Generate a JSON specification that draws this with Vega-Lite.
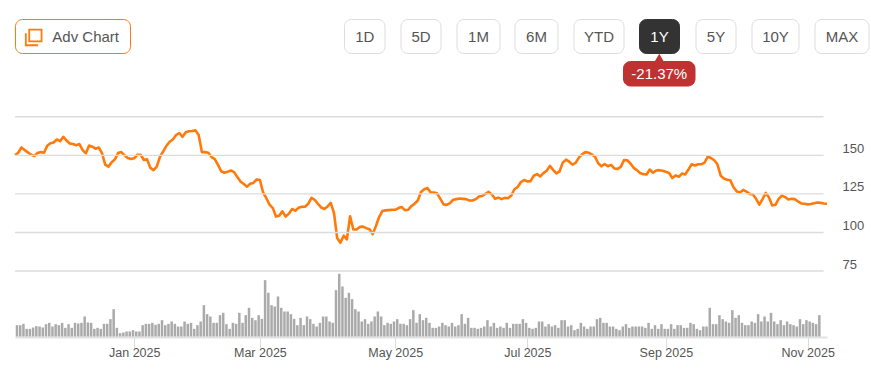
{"$schema":"https://vega.github.io/schema/vega-lite/v6.json","width":871,"height":379,"autosize":"none","padding":0,"background":"#ffffff","config":{"view":{"stroke":null},"font":"Liberation Sans"},"resolve":{"scale":{"x":"independent","y":"independent"},"axis":{"x":"independent","y":"independent"}},"layer":[{"data":{"values":[{"d":"2024-11-07","c":150.0,"v":3.4},{"d":"2024-11-08","c":151.7,"v":3.4},{"d":"2024-11-11","c":155.1,"v":3.8},{"d":"2024-11-12","c":153.4,"v":2.3},{"d":"2024-11-13","c":151.9,"v":2.3},{"d":"2024-11-14","c":150.4,"v":2.7},{"d":"2024-11-15","c":149.6,"v":3.1},{"d":"2024-11-18","c":151.5,"v":3.0},{"d":"2024-11-19","c":152.1,"v":2.7},{"d":"2024-11-20","c":151.7,"v":3.7},{"d":"2024-11-21","c":156.2,"v":4.1},{"d":"2024-11-22","c":157.9,"v":3.0},{"d":"2024-11-25","c":158.3,"v":3.7},{"d":"2024-11-26","c":160.3,"v":3.4},{"d":"2024-11-27","c":159.2,"v":4.1},{"d":"2024-11-29","c":162.0,"v":2.6},{"d":"2024-12-02","c":159.6,"v":3.7},{"d":"2024-12-03","c":157.7,"v":2.6},{"d":"2024-12-04","c":157.3,"v":4.1},{"d":"2024-12-05","c":156.6,"v":3.9},{"d":"2024-12-06","c":157.3,"v":4.1},{"d":"2024-12-09","c":153.4,"v":6.0},{"d":"2024-12-10","c":151.3,"v":4.2},{"d":"2024-12-11","c":156.4,"v":4.1},{"d":"2024-12-12","c":155.6,"v":2.3},{"d":"2024-12-13","c":154.3,"v":2.6},{"d":"2024-12-16","c":155.1,"v":2.3},{"d":"2024-12-17","c":151.5,"v":3.8},{"d":"2024-12-18","c":144.0,"v":3.8},{"d":"2024-12-19","c":142.7,"v":5.2},{"d":"2024-12-20","c":145.5,"v":8.2},{"d":"2024-12-23","c":147.4,"v":2.6},{"d":"2024-12-24","c":151.5,"v":1.0},{"d":"2024-12-26","c":152.1,"v":1.2},{"d":"2024-12-27","c":150.0,"v":1.5},{"d":"2024-12-30","c":148.3,"v":1.5},{"d":"2024-12-31","c":147.6,"v":1.9},{"d":"2025-01-02","c":148.1,"v":1.5},{"d":"2025-01-03","c":150.4,"v":1.5},{"d":"2025-01-06","c":150.4,"v":3.4},{"d":"2025-01-07","c":147.0,"v":3.8},{"d":"2025-01-08","c":147.4,"v":3.8},{"d":"2025-01-10","c":141.9,"v":4.1},{"d":"2025-01-13","c":140.4,"v":3.5},{"d":"2025-01-14","c":142.7,"v":3.8},{"d":"2025-01-15","c":149.1,"v":4.9},{"d":"2025-01-16","c":152.6,"v":3.4},{"d":"2025-01-17","c":156.2,"v":3.8},{"d":"2025-01-21","c":158.8,"v":4.5},{"d":"2025-01-22","c":160.3,"v":3.8},{"d":"2025-01-23","c":163.2,"v":3.0},{"d":"2025-01-24","c":164.5,"v":3.0},{"d":"2025-01-27","c":162.0,"v":4.5},{"d":"2025-01-28","c":165.0,"v":3.8},{"d":"2025-01-29","c":165.6,"v":4.1},{"d":"2025-01-30","c":165.8,"v":2.3},{"d":"2025-01-31","c":166.2,"v":3.4},{"d":"2025-02-03","c":163.2,"v":4.5},{"d":"2025-02-04","c":152.1,"v":9.4},{"d":"2025-02-05","c":152.1,"v":6.7},{"d":"2025-02-06","c":151.7,"v":6.0},{"d":"2025-02-07","c":148.9,"v":4.1},{"d":"2025-02-10","c":147.6,"v":4.1},{"d":"2025-02-11","c":143.8,"v":6.4},{"d":"2025-02-12","c":139.7,"v":7.1},{"d":"2025-02-13","c":138.7,"v":3.7},{"d":"2025-02-14","c":139.3,"v":2.3},{"d":"2025-02-18","c":140.2,"v":4.1},{"d":"2025-02-19","c":139.1,"v":3.8},{"d":"2025-02-20","c":135.9,"v":7.1},{"d":"2025-02-21","c":133.1,"v":4.1},{"d":"2025-02-24","c":131.4,"v":6.4},{"d":"2025-02-25","c":129.7,"v":8.6},{"d":"2025-02-26","c":131.6,"v":5.6},{"d":"2025-02-27","c":132.1,"v":4.9},{"d":"2025-02-28","c":134.4,"v":6.4},{"d":"2025-03-03","c":134.0,"v":5.3},{"d":"2025-03-04","c":125.9,"v":16.9},{"d":"2025-03-05","c":122.2,"v":13.1},{"d":"2025-03-06","c":118.0,"v":9.4},{"d":"2025-03-07","c":115.8,"v":9.0},{"d":"2025-03-10","c":110.3,"v":12.0},{"d":"2025-03-11","c":110.9,"v":8.6},{"d":"2025-03-12","c":113.7,"v":7.5},{"d":"2025-03-13","c":110.3,"v":7.5},{"d":"2025-03-14","c":112.2,"v":6.7},{"d":"2025-03-17","c":115.2,"v":5.3},{"d":"2025-03-18","c":114.1,"v":3.4},{"d":"2025-03-19","c":116.0,"v":5.6},{"d":"2025-03-20","c":116.7,"v":3.4},{"d":"2025-03-21","c":116.7,"v":6.0},{"d":"2025-03-24","c":118.6,"v":5.2},{"d":"2025-03-25","c":122.4,"v":3.8},{"d":"2025-03-26","c":121.2,"v":3.0},{"d":"2025-03-27","c":118.6,"v":4.1},{"d":"2025-03-28","c":116.2,"v":6.0},{"d":"2025-03-31","c":115.2,"v":6.0},{"d":"2025-04-01","c":116.9,"v":4.5},{"d":"2025-04-02","c":119.2,"v":4.1},{"d":"2025-04-03","c":112.6,"v":13.9},{"d":"2025-04-04","c":96.2,"v":18.8},{"d":"2025-04-07","c":93.4,"v":15.0},{"d":"2025-04-08","c":97.9,"v":11.6},{"d":"2025-04-09","c":95.5,"v":13.1},{"d":"2025-04-10","c":110.5,"v":11.2},{"d":"2025-04-11","c":101.9,"v":8.2},{"d":"2025-04-14","c":101.9,"v":7.5},{"d":"2025-04-15","c":103.6,"v":4.5},{"d":"2025-04-16","c":103.8,"v":5.2},{"d":"2025-04-17","c":102.8,"v":3.8},{"d":"2025-04-21","c":102.1,"v":4.5},{"d":"2025-04-22","c":98.9,"v":6.0},{"d":"2025-04-23","c":104.1,"v":7.5},{"d":"2025-04-24","c":110.0,"v":6.0},{"d":"2025-04-25","c":113.9,"v":3.4},{"d":"2025-04-28","c":114.3,"v":4.1},{"d":"2025-04-29","c":114.5,"v":3.8},{"d":"2025-04-30","c":114.7,"v":4.5},{"d":"2025-05-01","c":114.7,"v":5.2},{"d":"2025-05-02","c":115.8,"v":3.8},{"d":"2025-05-05","c":116.5,"v":3.8},{"d":"2025-05-06","c":114.5,"v":3.4},{"d":"2025-05-07","c":114.7,"v":5.2},{"d":"2025-05-08","c":117.1,"v":7.9},{"d":"2025-05-09","c":118.6,"v":4.1},{"d":"2025-05-12","c":120.7,"v":6.7},{"d":"2025-05-13","c":126.3,"v":4.9},{"d":"2025-05-14","c":128.0,"v":5.6},{"d":"2025-05-15","c":128.8,"v":4.1},{"d":"2025-05-16","c":125.9,"v":2.6},{"d":"2025-05-19","c":125.9,"v":2.6},{"d":"2025-05-20","c":125.4,"v":3.0},{"d":"2025-05-21","c":121.8,"v":4.1},{"d":"2025-05-22","c":118.2,"v":3.4},{"d":"2025-05-23","c":117.9,"v":3.0},{"d":"2025-05-27","c":119.0,"v":4.1},{"d":"2025-05-28","c":121.2,"v":3.0},{"d":"2025-05-29","c":121.6,"v":3.4},{"d":"2025-05-30","c":122.0,"v":6.7},{"d":"2025-06-02","c":121.8,"v":3.8},{"d":"2025-06-03","c":121.6,"v":5.6},{"d":"2025-06-04","c":120.7,"v":2.6},{"d":"2025-06-05","c":120.7,"v":2.6},{"d":"2025-06-06","c":121.6,"v":2.3},{"d":"2025-06-09","c":123.3,"v":2.6},{"d":"2025-06-10","c":123.7,"v":3.0},{"d":"2025-06-11","c":125.0,"v":4.9},{"d":"2025-06-12","c":126.3,"v":3.0},{"d":"2025-06-13","c":124.6,"v":4.1},{"d":"2025-06-16","c":121.8,"v":2.6},{"d":"2025-06-17","c":122.6,"v":3.0},{"d":"2025-06-18","c":121.6,"v":2.6},{"d":"2025-06-20","c":122.4,"v":4.1},{"d":"2025-06-23","c":122.2,"v":2.6},{"d":"2025-06-24","c":123.9,"v":3.8},{"d":"2025-06-25","c":128.0,"v":3.8},{"d":"2025-06-26","c":129.5,"v":3.8},{"d":"2025-06-27","c":132.7,"v":5.2},{"d":"2025-06-30","c":134.0,"v":4.1},{"d":"2025-07-01","c":133.1,"v":2.6},{"d":"2025-07-02","c":133.3,"v":2.3},{"d":"2025-07-03","c":136.8,"v":2.6},{"d":"2025-07-07","c":137.8,"v":4.5},{"d":"2025-07-08","c":136.3,"v":4.5},{"d":"2025-07-09","c":138.5,"v":3.0},{"d":"2025-07-10","c":140.0,"v":3.7},{"d":"2025-07-11","c":143.2,"v":3.0},{"d":"2025-07-14","c":140.6,"v":3.4},{"d":"2025-07-15","c":138.3,"v":2.6},{"d":"2025-07-16","c":139.6,"v":4.9},{"d":"2025-07-17","c":145.3,"v":4.9},{"d":"2025-07-18","c":147.2,"v":3.0},{"d":"2025-07-21","c":145.9,"v":3.4},{"d":"2025-07-22","c":144.0,"v":1.9},{"d":"2025-07-23","c":145.1,"v":2.3},{"d":"2025-07-24","c":148.5,"v":4.1},{"d":"2025-07-25","c":150.6,"v":3.0},{"d":"2025-07-28","c":152.1,"v":2.3},{"d":"2025-07-29","c":151.7,"v":3.0},{"d":"2025-07-30","c":150.6,"v":3.0},{"d":"2025-07-31","c":149.1,"v":5.2},{"d":"2025-08-01","c":144.9,"v":5.6},{"d":"2025-08-04","c":142.9,"v":4.1},{"d":"2025-08-05","c":144.4,"v":4.1},{"d":"2025-08-06","c":142.9,"v":3.0},{"d":"2025-08-07","c":143.8,"v":3.0},{"d":"2025-08-08","c":141.5,"v":2.3},{"d":"2025-08-11","c":141.2,"v":1.9},{"d":"2025-08-12","c":142.5,"v":3.0},{"d":"2025-08-13","c":147.0,"v":3.7},{"d":"2025-08-14","c":146.8,"v":2.6},{"d":"2025-08-15","c":144.7,"v":3.0},{"d":"2025-08-18","c":141.9,"v":3.0},{"d":"2025-08-19","c":140.4,"v":3.0},{"d":"2025-08-20","c":138.5,"v":3.0},{"d":"2025-08-21","c":137.8,"v":2.6},{"d":"2025-08-22","c":137.6,"v":4.1},{"d":"2025-08-25","c":140.8,"v":2.3},{"d":"2025-08-26","c":138.7,"v":3.4},{"d":"2025-08-27","c":140.2,"v":2.3},{"d":"2025-08-28","c":140.4,"v":3.7},{"d":"2025-08-29","c":140.0,"v":2.3},{"d":"2025-09-02","c":139.3,"v":2.3},{"d":"2025-09-03","c":138.5,"v":3.7},{"d":"2025-09-04","c":135.3,"v":2.3},{"d":"2025-09-05","c":137.0,"v":3.4},{"d":"2025-09-08","c":136.1,"v":3.4},{"d":"2025-09-09","c":138.2,"v":2.6},{"d":"2025-09-10","c":137.6,"v":2.6},{"d":"2025-09-11","c":140.8,"v":4.1},{"d":"2025-09-12","c":144.2,"v":3.7},{"d":"2025-09-15","c":143.4,"v":2.3},{"d":"2025-09-16","c":144.2,"v":1.9},{"d":"2025-09-17","c":144.2,"v":3.0},{"d":"2025-09-18","c":145.3,"v":3.0},{"d":"2025-09-19","c":149.1,"v":8.6},{"d":"2025-09-22","c":148.3,"v":3.7},{"d":"2025-09-23","c":146.8,"v":3.7},{"d":"2025-09-24","c":144.2,"v":6.4},{"d":"2025-09-25","c":136.8,"v":5.2},{"d":"2025-09-26","c":135.0,"v":4.5},{"d":"2025-09-29","c":134.2,"v":4.1},{"d":"2025-09-30","c":133.8,"v":7.9},{"d":"2025-10-01","c":129.3,"v":5.6},{"d":"2025-10-02","c":126.5,"v":6.4},{"d":"2025-10-03","c":125.9,"v":4.1},{"d":"2025-10-06","c":127.6,"v":3.4},{"d":"2025-10-07","c":126.5,"v":3.4},{"d":"2025-10-08","c":125.0,"v":4.5},{"d":"2025-10-09","c":124.6,"v":4.1},{"d":"2025-10-10","c":121.8,"v":6.7},{"d":"2025-10-13","c":118.0,"v":4.5},{"d":"2025-10-14","c":121.6,"v":6.0},{"d":"2025-10-15","c":125.6,"v":4.5},{"d":"2025-10-16","c":122.6,"v":7.1},{"d":"2025-10-17","c":117.5,"v":4.5},{"d":"2025-10-20","c":117.9,"v":3.7},{"d":"2025-10-21","c":121.8,"v":4.9},{"d":"2025-10-22","c":123.9,"v":3.4},{"d":"2025-10-23","c":122.9,"v":4.5},{"d":"2025-10-24","c":121.4,"v":3.7},{"d":"2025-10-27","c":121.8,"v":3.4},{"d":"2025-10-28","c":121.6,"v":3.0},{"d":"2025-10-29","c":120.1,"v":5.2},{"d":"2025-10-30","c":118.8,"v":3.7},{"d":"2025-10-31","c":118.6,"v":4.9},{"d":"2025-11-03","c":118.2,"v":4.5},{"d":"2025-11-04","c":118.4,"v":4.1},{"d":"2025-11-05","c":119.0,"v":3.7},{"d":"2025-11-06","c":119.4,"v":6.4},{"d":"2025-11-07","c":119.2,"v":null},{"d":"2025-11-10","c":118.8,"v":null},{"d":"2025-11-11","c":118.6,"v":null}]},"encoding":{"x":{"field":"d","type":"ordinal","sort":"ascending","title":null,"scale":{"type":"point","padding":0,"range":[15,827]},"axis":{"values":["2025-01-02","2025-03-03","2025-05-01","2025-07-01","2025-09-02","2025-11-03"],"labelExpr":"timeFormat(toDate(datum.value+'T12:00:00'),'%b %Y')","orient":"bottom","offset":-42,"domainColor":"#e2e2e2","domainWidth":2,"tickColor":"#dddddd","tickWidth":1,"tickSize":11,"labelAngle":0,"labelColor":"#555555","labelFont":"Liberation Sans","labelFontSize":12.5,"labelPadding":-2,"labelOverlap":false,"labelBaseline":"top","grid":false}}},"resolve":{"scale":{"y":"independent"},"axis":{"y":"independent"}},"layer":[{"mark":{"type":"bar","width":2.5,"xOffset":2,"color":"#aaaaaa"},"encoding":{"y":{"field":"v","type":"quantitative","title":null,"axis":null,"scale":{"domain":[0,20],"range":[336.5,269.8],"nice":false,"zero":false}}}},{"mark":{"type":"line","color":"#ff7a0a","strokeWidth":2.6,"strokeJoin":"round","interpolate":"linear"},"encoding":{"y":{"field":"c","type":"quantitative","title":null,"scale":{"domain":[75,175],"range":[271,116.8],"nice":false,"zero":false},"axis":{"orient":"right","values":[75,100,125,150],"offset":-35,"domain":false,"ticks":false,"grid":false,"labelPadding":6,"labelOffset":-7,"labelAlign":"left","labelColor":"#555555","labelFont":"Liberation Sans","labelFontSize":13}}}}]},{"data":{"values":[{"level":75,"from":"2024-11-07","to":"2025-11-10"},{"level":100,"from":"2024-11-07","to":"2025-11-10"},{"level":125,"from":"2024-11-07","to":"2025-11-10"},{"level":150,"from":"2024-11-07","to":"2025-11-10"},{"level":175,"from":"2024-11-07","to":"2025-11-10"}]},"mark":{"type":"rule","color":"#dcdcdc","strokeWidth":1.4},"encoding":{"x":{"field":"from","type":"ordinal","axis":null,"title":null,"scale":{"type":"point","padding":0,"domain":["2024-11-07","2025-11-10"],"range":[15,823.5]}},"x2":{"field":"to"},"y":{"field":"level","type":"quantitative","axis":null,"title":null,"scale":{"domain":[75,175],"range":[271,116.8],"nice":false,"zero":false}}}},{"data":{"values":[{"label":"Adv Chart","kind":"adv","from":0,"to":1,"mid":0.61,"row":0,"rowEnd":1,"rowMid":0.5},{"label":"1D","kind":"off","from":2,"to":3,"mid":2.5,"row":0,"rowEnd":1,"rowMid":0.5},{"label":"5D","kind":"off","from":4,"to":5,"mid":4.5,"row":0,"rowEnd":1,"rowMid":0.5},{"label":"1M","kind":"off","from":6,"to":7,"mid":6.5,"row":0,"rowEnd":1,"rowMid":0.5},{"label":"6M","kind":"off","from":8,"to":9,"mid":8.5,"row":0,"rowEnd":1,"rowMid":0.5},{"label":"YTD","kind":"off","from":10,"to":11,"mid":10.5,"row":0,"rowEnd":1,"rowMid":0.5},{"label":"1Y","kind":"on","from":12,"to":13,"mid":12.5,"row":0,"rowEnd":1,"rowMid":0.5},{"label":"5Y","kind":"off","from":14,"to":15,"mid":14.5,"row":0,"rowEnd":1,"rowMid":0.5},{"label":"10Y","kind":"off","from":16,"to":17,"mid":16.5,"row":0,"rowEnd":1,"rowMid":0.5},{"label":"MAX","kind":"off","from":18,"to":19,"mid":18.5,"row":0,"rowEnd":1,"rowMid":0.5},{"label":"-21.37%","kind":"tag","from":20,"to":21,"mid":20.5,"row":2,"rowEnd":3,"rowMid":2.5}]},"encoding":{"x":{"field":"from","type":"quantitative","axis":null,"title":null,"scale":{"domain":[0,1,2,3,4,5,6,7,8,9,10,11,12,13,14,15,16,17,18,19,20,21],"range":[15.5,130.5,344.5,385,401,441,457,500,515,558,574,624,639.5,679.5,696,736,752,799,815,869,623.5,695],"nice":false,"zero":false}},"y":{"field":"row","type":"quantitative","axis":null,"title":null,"scale":{"domain":[0,1,2,3],"range":[19.5,53.5,61.5,86],"nice":false,"zero":false}}},"layer":[{"mark":{"type":"rect","cornerRadius":7,"strokeWidth":1},"encoding":{"x2":{"field":"to"},"y2":{"field":"rowEnd"},"fill":{"field":"kind","type":"nominal","legend":null,"scale":{"domain":["adv","off","on","tag"],"range":["#ffffff","#ffffff","#333333","#c03232"]}},"stroke":{"field":"kind","type":"nominal","legend":null,"scale":{"domain":["adv","off","on","tag"],"range":["#ff7a0a","#dddddd","#333333","#c03232"]}}}},{"data":{"values":[{"from":20.5,"row":1.55}]},"mark":{"type":"point","shape":"triangle-up","filled":true,"color":"#c03232","size":95,"opacity":1}},{"data":{"values":[{"from":0.16,"row":0.52}]},"mark":{"type":"point","shape":"M-0.55,-0.9H0.9V0.5H-0.55Z M-0.95,-0.45V0.95H0.5","filled":false,"color":"#ff7a0a","strokeWidth":1.8,"size":289,"opacity":1}},{"mark":{"type":"text","baseline":"middle","align":"center","font":"Liberation Sans","fontSize":15},"encoding":{"x":{"field":"mid","type":"quantitative"},"y":{"field":"rowMid","type":"quantitative"},"text":{"field":"label","type":"nominal"},"color":{"field":"kind","type":"nominal","legend":null,"scale":{"domain":["adv","off","on","tag"],"range":["#555555","#555555","#ffffff","#ffffff"]}}}}]}]}
